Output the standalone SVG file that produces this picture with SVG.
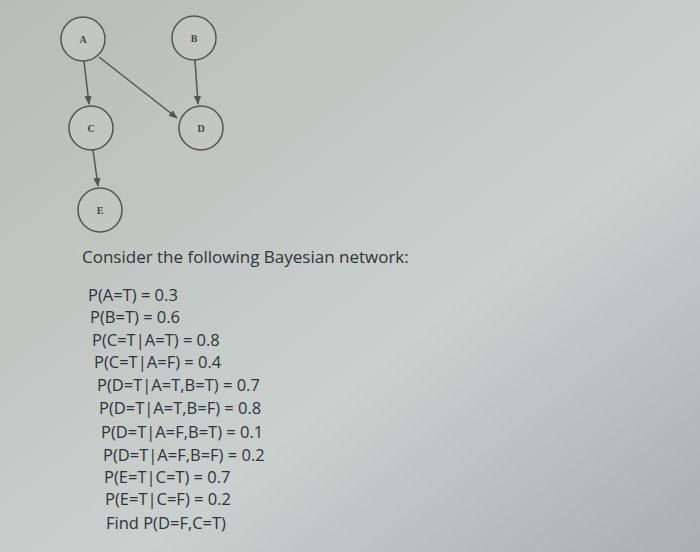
<svg xmlns="http://www.w3.org/2000/svg" width="700" height="552" viewBox="0 0 700 552">
<defs>
<linearGradient id="bg" x1="0" y1="0" x2="1" y2="1"><stop offset="0" stop-color="#b9bcb8"/><stop offset="0.6" stop-color="#c9d0ce"/><stop offset="1" stop-color="#a9b0b0"/></linearGradient>
<marker id="ah" viewBox="0 0 10 10" refX="9" refY="5" markerWidth="6" markerHeight="6" orient="auto"><path d="M0,1 L10,5 L0,9 z" fill="#555"/></marker>
</defs>
<style>
.n circle{fill:#c4c6c2;stroke:#555;stroke-width:1.5}
.n text{font-family:"Liberation Serif",serif;font-size:10px;font-weight:bold;fill:#444;text-anchor:middle}
.e line{stroke:#555;stroke-width:1.5;marker-end:url(#ah)}
.t{font-family:"Open Sans","Liberation Sans",sans-serif;font-size:16.5px;fill:#2f3438}
</style>
<rect width="700" height="552" fill="url(#bg)"/>
<g class="e">
<line x1="84" y1="61" x2="89" y2="104"/>
<line x1="99" y1="57" x2="177" y2="118"/>
<line x1="195" y1="60" x2="198" y2="104"/>
<line x1="93" y1="150" x2="98" y2="186"/>
</g>
<g id="A" class="n"><circle cx="83" cy="39" r="22"/><text x="83" y="43">A</text></g>
<g id="B" class="n"><circle cx="194" cy="38" r="22"/><text x="194" y="42">B</text></g>
<g id="C" class="n"><circle cx="91" cy="128" r="22"/><text x="91" y="132">C</text></g>
<g id="D" class="n"><circle cx="201" cy="128" r="22"/><text x="201" y="132">D</text></g>
<g id="E" class="n"><circle cx="100" cy="210" r="22"/><text x="100" y="214">E</text></g>
<text class="t" x="82" y="263" style="font-size:17px">Consider the following Bayesian network:</text>
<text class="t" x="88" y="301">P(A=T) = 0.3</text>
<text class="t" x="90" y="323">P(B=T) = 0.6</text>
<text class="t" x="92" y="346">P(C=T|A=T) = 0.8</text>
<text class="t" x="94" y="368">P(C=T|A=F) = 0.4</text>
<text class="t" x="97" y="391">P(D=T|A=T,B=T) = 0.7</text>
<text class="t" x="99" y="414">P(D=T|A=T,B=F) = 0.8</text>
<text class="t" x="101" y="438">P(D=T|A=F,B=T) = 0.1</text>
<text class="t" x="103" y="461">P(D=T|A=F,B=F) = 0.2</text>
<text class="t" x="104" y="483">P(E=T|C=T) = 0.7</text>
<text class="t" x="105" y="505">P(E=T|C=F) = 0.2</text>
<text class="t" x="106" y="529">Find P(D=F,C=T)</text>
</svg>
